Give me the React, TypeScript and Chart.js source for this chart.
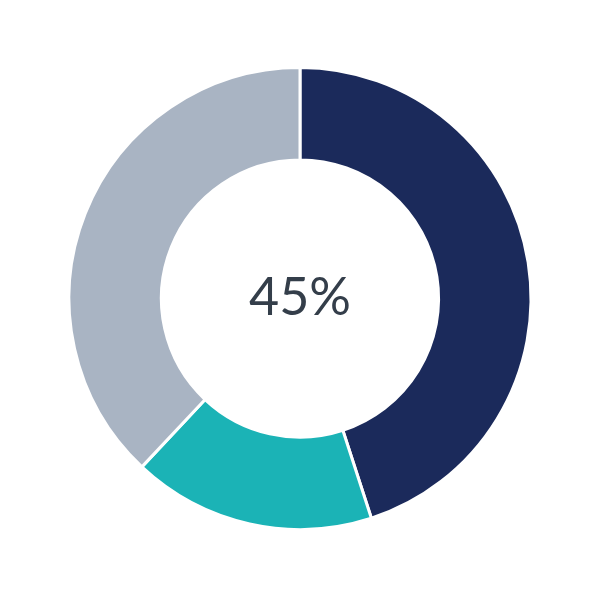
import React, { useEffect, useRef } from "react";
import { Chart, registerables } from "chart.js";

Chart.register(...registerables);

const categories = ["Navy", "Teal", "Grey"];
const values = [45, 17, 38];
const colors = ["#1b2a5b", "#1bb3b6", "#a9b4c3"];
const centerLabel = "45%";

const centerText = {
  id: "centerText",
  afterDraw(chart: any) {
    const { ctx, chartArea } = chart;
    const cx = (chartArea.left + chartArea.right) / 2;
    const cy = (chartArea.top + chartArea.bottom) / 2;
    ctx.save();
    ctx.font = "400 52px Lato";
    ctx.fillStyle = "#343e4a";
    ctx.textAlign = "center";
    ctx.textBaseline = "middle";
    ctx.fillText(centerLabel, cx, cy);
    ctx.restore();
  },
};

export default function App() {
  const ref = useRef<HTMLCanvasElement>(null);
  useEffect(() => {
    document.body.style.margin = "0";
    const chart = new Chart(ref.current!, {
      type: "doughnut",
      data: {
        labels: categories,
        datasets: [
          {
            data: values,
            backgroundColor: colors,
            borderColor: "#ffffff",
            borderWidth: 3,
          },
        ],
      },
      options: {
        animation: false,
        responsive: false,
        cutout: "60%",
        layout: { padding: { left: 67, right: 67, top: 66, bottom: 68 } },
        plugins: { legend: { display: false }, tooltip: { enabled: false } },
      },
      plugins: [centerText],
    });
    return () => chart.destroy();
  }, []);
  return (
    <div style={{ width: 600, height: 599 }}>
      <canvas ref={ref} width={600} height={599} style={{ width: 600, height: 599 }} />
    </div>
  );
}
